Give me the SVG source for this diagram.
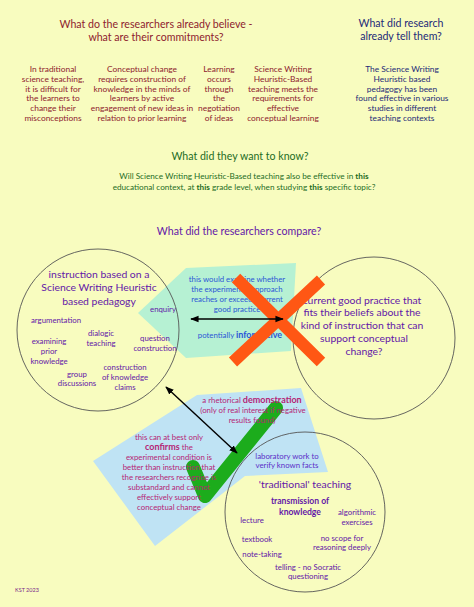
<svg xmlns="http://www.w3.org/2000/svg" width="474" height="607" viewBox="0 0 474 607">
<defs>
<marker id="ah" viewBox="0 0 10 10" refX="9" refY="5" markerWidth="6" markerHeight="6" orient="auto-start-reverse">
<path d="M0,1 L10,5 L0,9 z" fill="#000"/>
</marker>
<style>
text{font-family:Lato,"Open Sans","Liberation Sans",sans-serif;text-anchor:middle}
.ttl{font-size:10.6px}
.red{fill:#8e1b2e}
.navy{fill:#1d2a78}
.green{fill:#1f6d1f}
.purp{fill:#6317a8}
.blue{fill:#2b56d6}
.mag{fill:#b51f74}
.col{font-size:8.4px}
.sm{font-size:7.8px}
.big{font-size:10.4px}
.circ{fill:none;stroke:#555;stroke-width:0.9}
</style>
</defs>
<rect width="474" height="607" fill="#f8fcbf"/>

<g id="beliefs">
<text class="ttl red" x="156" y="28">What do the researchers already believe -</text>
<text class="ttl red" x="156" y="41">what are their commitments?</text>
<g class="col red">
<text x="53" y="72">In traditional</text><text x="53" y="82">science teaching,</text><text x="53" y="92">it is difficult for</text><text x="53" y="101">the learners to</text><text x="53" y="111">change their</text><text x="53" y="121">misconceptions</text>
<text x="142" y="72">Conceptual change</text><text x="142" y="82">requires construction of</text><text x="142" y="92">knowledge in the minds of</text><text x="142" y="101">learners by active</text><text x="142" y="111">engagement of new ideas in</text><text x="142" y="121">relation to prior learning</text>
<text x="219" y="72">Learning</text><text x="219" y="82">occurs</text><text x="219" y="92">through</text><text x="219" y="101">the</text><text x="219" y="111">negotiation</text><text x="219" y="121">of ideas</text>
<text x="283" y="72">Science Writing</text><text x="283" y="82">Heuristic-Based</text><text x="283" y="92">teaching meets the</text><text x="283" y="101">requirements for</text><text x="283" y="111">effective</text><text x="283" y="121">conceptual learning</text>
</g>
</g>

<g id="research">
<text class="ttl navy" x="401" y="27">What did research</text>
<text class="ttl navy" x="401" y="40">already tell them?</text>
<g class="col navy">
<text x="402" y="72">The Science Writing</text><text x="402" y="82">Heuristic based</text><text x="402" y="92">pedagogy has been</text><text x="402" y="101">found effective in various</text><text x="402" y="111">studies in different</text><text x="402" y="121">teaching contexts</text>
</g>
</g>

<g id="question">
<text class="ttl green" x="240" y="160">What did they want to know?</text>
<text class="green" style="font-size:8.2px" x="244" y="179">Will Science Writing Heuristic-Based teaching also be effective in <tspan font-weight="bold">this</tspan></text>
<text class="green" style="font-size:8.2px" x="244" y="190">educational context, at <tspan font-weight="bold">this</tspan> grade level, when studying <tspan font-weight="bold">this</tspan> specific topic?</text>
</g>

<g id="compare-title">
<text class="ttl purp" x="239" y="235">What did the researchers compare?</text>
</g>

<g id="informative-zone">
<path d="M138,313 L186,268 L296,263 L291,351 L186,358 Z" fill="#b6f1d3"/>
</g>

<g id="demonstration-zone">
<path d="M93,461 L197,395 L301,388 L328,472 L245,476 L155,546 Z" fill="#bfe3f4"/>
</g>

<g id="tick">
<path d="M193,467 L205,496 L276,408" fill="none" stroke="#1cac1c" stroke-width="14" stroke-linecap="round" stroke-linejoin="round"/>
</g>

<g id="swh-circle">
<circle class="circ" cx="98" cy="330" r="81"/>
<g class="purp">
<text class="big" x="99" y="278">instruction based on a</text>
<text class="big" x="99" y="291">Science Writing Heuristic</text>
<text class="big" x="99" y="305">based pedagogy</text>
<text class="sm" x="56" y="323">argumentation</text>
<text class="sm" x="49" y="344">examining</text><text class="sm" x="49" y="354">prior</text><text class="sm" x="49" y="364">knowledge</text>
<text class="sm" x="101" y="336">dialogic</text><text class="sm" x="101" y="346">teaching</text>
<text class="sm" x="155" y="341">question</text><text class="sm" x="155" y="351">construction</text>
<text class="sm" x="163" y="312">enquiry</text>
<text class="sm" x="77" y="377">group</text><text class="sm" x="77" y="386">discussions</text>
<text class="sm" x="125" y="370">construction</text><text class="sm" x="125" y="380">of knowledge</text><text class="sm" x="125" y="390">claims</text>
</g>
</g>

<g id="good-practice-circle">
<circle class="circ" cx="374" cy="338" r="81"/>
<g class="purp big">
<text x="362" y="304">current good practice that</text>
<text x="362" y="316">fits their beliefs about the</text>
<text x="362" y="329">kind of instruction that can</text>
<text x="364" y="342">support conceptual</text>
<text x="364" y="355">change?</text>
</g>
</g>

<g id="traditional-circle">
<circle class="circ" cx="305" cy="512" r="80"/>
<g class="purp">
<text class="big" x="305" y="488">'traditional' teaching</text>
<text font-size="8.6" font-weight="bold" x="300" y="504">transmission of</text>
<text font-size="8.6" font-weight="bold" x="300" y="515">knowledge</text>
<text class="sm" x="357" y="515">algorithmic</text><text class="sm" x="357" y="525">exercises</text>
<text class="sm" x="252" y="523">lecture</text>
<text class="sm" x="257" y="542">textbook</text>
<text class="sm" x="342" y="541">no scope for</text><text class="sm" x="342" y="550">reasoning deeply</text>
<text class="sm" x="262" y="557">note-taking</text>
<text class="sm" x="308" y="570">telling - no Socratic</text><text class="sm" x="308" y="579">questioning</text>
</g>
</g>

<g id="informative-label" class="blue sm">
<text x="237" y="282">this would examine whether</text>
<text x="237" y="292">the experimental approach</text>
<text x="237" y="302">reaches or exceeds current</text>
<text x="237" y="312">good practice</text>
<text x="240" y="338">potentially <tspan font-weight="bold" font-size="9">informative</tspan></text>
</g>

<g id="demonstration-label" class="mag sm">
<text x="252" y="403">a rhetorical <tspan font-weight="bold" font-size="9">demonstration</tspan></text>
<text x="253" y="413">(only of real interest if negative</text>
<text x="252" y="423">results found)</text>
<text x="169" y="440">this can at best only</text>
<text x="169" y="450"><tspan font-weight="bold" font-size="9">confirms</tspan> the</text>
<text x="169" y="460">experimental condition is</text>
<text x="169" y="470">better than instruction that</text>
<text x="169" y="480">the researchers recognise is</text>
<text x="169" y="490">substandard and cannot</text>
<text x="169" y="500">effectively support</text>
<text x="169" y="510">conceptual change</text>
</g>

<g id="lab-label" class="sm" fill="#5b2fc8">
<text x="287" y="459">laboratory work to</text>
<text x="287" y="468">verify known facts</text>
</g>

<g id="cross">
<path d="M236,278 L321,362 M321,280 L233,362" stroke="#ff5714" stroke-width="12" fill="none"/>
</g>

<g id="connectors" stroke="#000" stroke-width="1.4" fill="none">
<line x1="191" y1="319" x2="283" y2="319" marker-start="url(#ah)" marker-end="url(#ah)"/>
<line x1="166" y1="387" x2="237" y2="453" marker-start="url(#ah)" marker-end="url(#ah)"/>
</g>

<g id="credit">
<text x="15" y="592" style="font-size:5.5px;text-anchor:start;fill:#7a2a8a">KST 2023</text>
</g>
</svg>
